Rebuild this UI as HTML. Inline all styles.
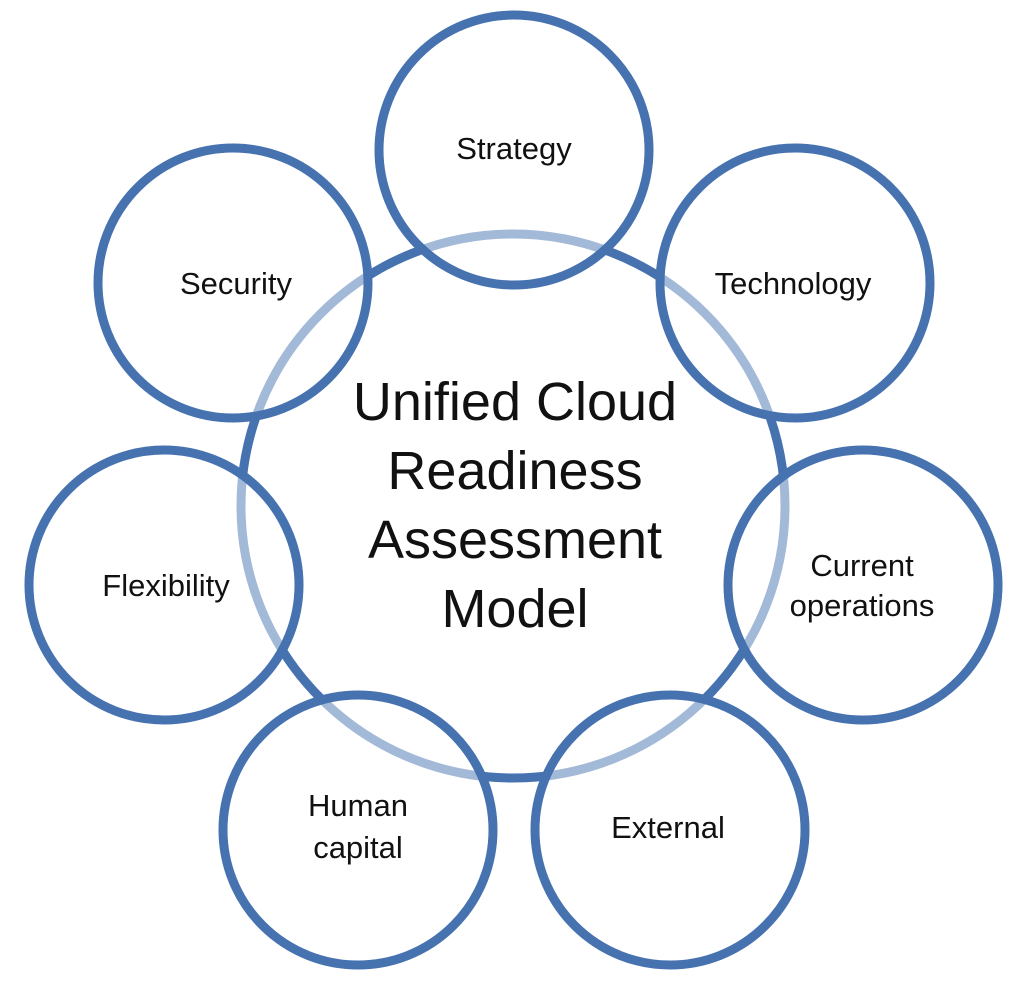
<!DOCTYPE html>
<html><head><meta charset="utf-8"><style>
html,body{margin:0;padding:0;background:#fff;}
svg{display:block}
text{font-family:"Liberation Sans",sans-serif;fill:#111;text-anchor:middle;}
</style></head><body>
<svg width="1027" height="993" viewBox="0 0 1027 993" xmlns="http://www.w3.org/2000/svg">
<circle cx="513" cy="506" r="272" fill="#fff" stroke="#4672b0" stroke-width="9"/>
<g fill="#fff" fill-opacity="0.5" stroke="#4672b0" stroke-width="9">
<circle cx="514" cy="150" r="135"/>
<circle cx="795" cy="283" r="135"/>
<circle cx="233" cy="283" r="135"/>
<circle cx="863" cy="585" r="135"/>
<circle cx="164" cy="585" r="135"/>
<circle cx="670" cy="830" r="135"/>
<circle cx="358" cy="830" r="135"/>
</g>
<g font-size="54">
<text x="515" y="420">Unified Cloud</text>
<text x="515" y="489">Readiness</text>
<text x="515" y="558">Assessment</text>
<text x="515" y="627">Model</text>
</g>
<g font-size="31">
<text x="514" y="159">Strategy</text>
<text x="793" y="294">Technology</text>
<text x="236" y="294">Security</text>
<text x="862" y="576">Current</text>
<text x="862" y="616">operations</text>
<text x="166" y="596">Flexibility</text>
<text x="668" y="838">External</text>
<text x="358" y="816">Human</text>
<text x="358" y="858">capital</text>
</g>
</svg>
</body></html>
